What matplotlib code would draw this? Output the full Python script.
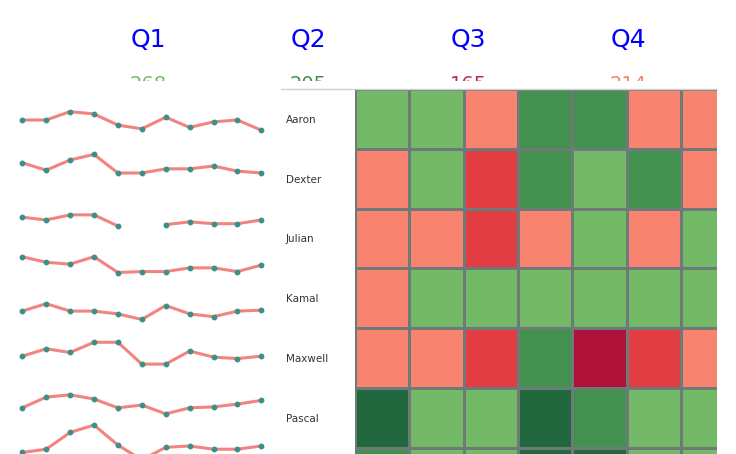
import numpy as np
import matplotlib.pyplot as plt
from matplotlib.colors import ListedColormap, BoundaryNorm
from matplotlib.lines import Line2D

# quarter headers and totals
quarters = ['Q1', 'Q2', 'Q3', 'Q4']
totals = [268, 205, 165, 214]
total_colors = ['#74b967', '#43914f', '#c02a4a', '#f8836e']

names = ['Aaron', 'Dexter', 'Julian', 'Kamal', 'Maxwell', 'Pascal', 'Sebastian']

# sparkline values per person (11 periods), nan = missing
spark_aaron = [57, 57, 75, 70, 46, 38, 63, 41, 53, 57, 35]
spark_dexter = [65, 49, 71, 83, 43, 43, 52, 52, 58, 47, 43]
spark_julian = [48, 42, 53, 53, 29, np.nan, 32, 38, 34, 34, 42]
spark_kamal = [63, 51, 47, 63, 29, 31, 31, 39, 39, 31, 45]
spark_maxwell = [46, 62, 46, 46, 40, 28, 58, 40, 34, 46, 48]
spark_pascal = [49, 65, 57, 79, 79, 32, 32, 60, 47, 44, 49]
spark_sebastian = [38, 61, 66, 57, 38, 44, 25, 38, 40, 46, 54]
spark_eighth = [42, 49, 85, 101, 58, 26, 53, 56, 49, 49, 56]
sparks = [spark_aaron, spark_dexter, spark_julian, spark_kamal,
          spark_maxwell, spark_pascal, spark_sebastian, spark_eighth]

# heatmap rating levels: 0 crimson .. 5 dark green
heat_aaron = [3, 3, 2, 4, 4, 2, 2]
heat_dexter = [2, 3, 1, 4, 3, 4, 2]
heat_julian = [2, 2, 1, 2, 3, 2, 3]
heat_kamal = [2, 3, 3, 3, 3, 3, 3]
heat_maxwell = [2, 2, 1, 4, 0, 1, 2]
heat_pascal = [5, 3, 3, 5, 4, 3, 3]
heat_sebastian = [4, 3, 3, 5, 5, 3, 3]
heat = np.array([heat_aaron, heat_dexter, heat_julian, heat_kamal,
                 heat_maxwell, heat_pascal, heat_sebastian])

level_colors = ['#ae1238', '#e23d42', '#f8836e', '#74b967', '#43914f', '#22683e']

W, H = 736, 454
fig = plt.figure(figsize=(W / 100, H / 100), dpi=100)


def px_axes(x0, y0, x1, y1):
    return fig.add_axes([x0 / W, 1 - y1 / H, (x1 - x0) / W, (y1 - y0) / H])


# header with quarter labels and (clipped) totals
hdr = px_axes(68, 0, 708, 80.5)
hdr.set_xlim(0, 4)
hdr.set_ylim(80.5, 0)
hdr.axis('off')
for i, (q, t, c) in enumerate(zip(quarters, totals, total_colors)):
    hdr.text(i + 0.5, 47.5, q, color='#0000ff', fontsize=18, ha='center', va='baseline')
    hdr.text(i + 0.5, 89.5, str(t), color=c, fontsize=14, ha='center', va='baseline',
             clip_on=True)

# heatmap
row_h = 59.8
col_w = 54.35
hm = px_axes(355, 89, 717, 89 + row_h * len(names))
cmap = ListedColormap(level_colors)
norm = BoundaryNorm(np.arange(-0.5, 6.5, 1), cmap.N)
hm.pcolormesh(heat, cmap=cmap, norm=norm, edgecolors='#6e7a7a', linewidth=0.8)
hm.set_xlim(0, (717 - 355) / col_w)
hm.set_ylim(len(names), 0)
for s in hm.spines.values():
    s.set_visible(False)
hm.set_xticks([])
hm.set_yticks(np.arange(len(names)) + 0.5)
hm.set_yticklabels(names, fontsize=7.5, color='#333333', ha='left')
hm.tick_params(axis='y', length=0, pad=(355 - 286) * 0.72)

fig.add_artist(Line2D([281 / W, 717 / W], [1 - 88.5 / H, 1 - 88.5 / H],
                      color='#d0d0d0', linewidth=1))

# sparklines
band = 46.5
for i, vals in enumerate(sparks):
    ax = px_axes(10.3, 100 + band * i, 273.3, 100 + band * (i + 1))
    ax.plot(range(len(vals)), vals, color='#f28480', linewidth=2.2,
            marker='o', markersize=3.2, markerfacecolor='#3d8f87',
            markeredgecolor='#3d8f87', clip_on=False)
    ax.set_xlim(-0.5, 10.5)
    ax.set_ylim(0, 100)
    ax.axis('off')

plt.savefig('out.png', dpi=100)
